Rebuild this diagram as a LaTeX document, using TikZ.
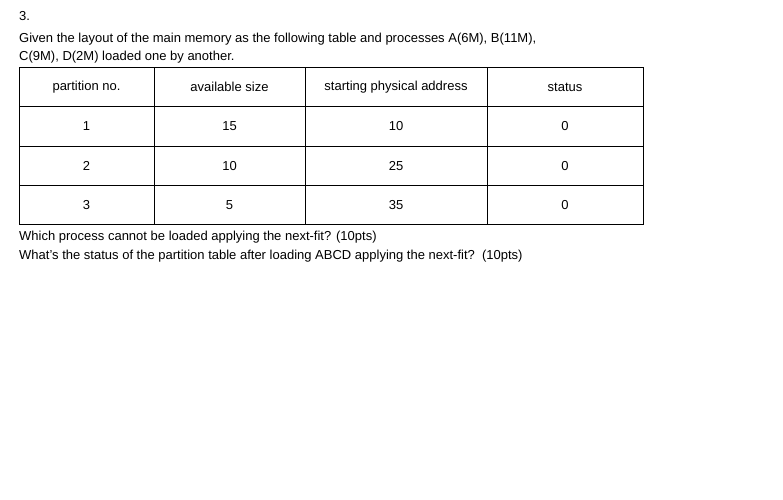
\documentclass[tikz,border=0pt]{standalone}
\usepackage{fontspec}
\setmainfont{Liberation Sans}
\begin{document}
\begin{tikzpicture}[x=1pt,y=-1pt,
  txt/.style={anchor=base west,inner sep=0pt,font=\fontsize{13}{15}\selectfont},
  cell/.style={inner sep=0pt,font=\fontsize{13}{15}\selectfont},
  grid/.style={draw=black,line width=1pt}]
\useasboundingbox (0,0) rectangle (783,499);
\node[txt] (t0) at (19,20) {3.};
\node[txt] (t1) at (19,42) {Given the layout of the main memory as the following table and processes A(6M), B(11M),};
\node[txt] (t2) at (19,60) {C(9M), D(2M) loaded one by another.};
\draw[grid] (19,67) rectangle (643,224);
\foreach \y in {106,146,185} \draw[grid] (19,\y) -- (643,\y);
\foreach \x in {154,305,487} \draw[grid] (\x,67) -- (\x,224);
\node[cell] (h1) at (86.5,87) {partition no.};
\node[cell] (h2) at (229.5,87) {available size};
\node[cell] (h3) at (396,87) {starting physical address};
\node[cell] (h4) at (565,87) {status};
\node[cell] (a1) at (86.5,126) {1};
\node[cell] (a2) at (229.5,126) {15};
\node[cell] (a3) at (396,126) {10};
\node[cell] (a4) at (565,126) {0};
\node[cell] (b1) at (86.5,166) {2};
\node[cell] (b2) at (229.5,166) {10};
\node[cell] (b3) at (396,166) {25};
\node[cell] (b4) at (565,166) {0};
\node[cell] (c1) at (86.5,205) {3};
\node[cell] (c2) at (229.5,205) {5};
\node[cell] (c3) at (396,205) {35};
\node[cell] (c4) at (565,205) {0};
\node[txt] (q1) at (19,240) {Which process cannot be loaded applying the next-fit? (10pts)};
\node[txt] (q2) at (19,259) {What's the status of the partition table after loading ABCD applying the next-fit?\ \ (10pts)};
\end{tikzpicture}
\end{document}
